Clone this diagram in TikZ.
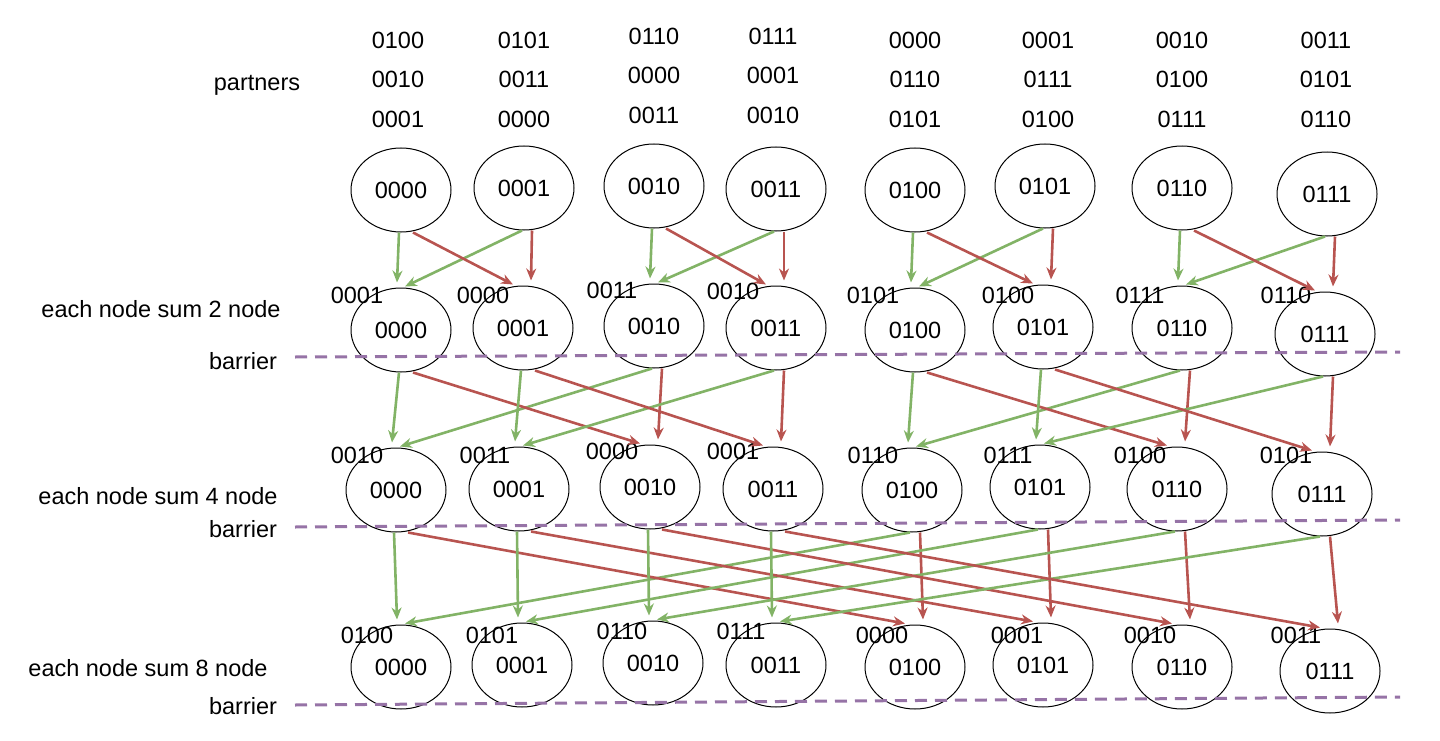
\documentclass[tikz,border=0pt]{standalone}
\usepackage{fontspec}
\setmainfont{Liberation Sans}
\usetikzlibrary{shapes.geometric,arrows.meta}
\definecolor{gr}{HTML}{82B366}
\definecolor{rd}{HTML}{B85450}
\definecolor{pu}{HTML}{9673A6}
\begin{document}
\begin{tikzpicture}[x=1pt,y=-1pt,
  nd/.style={draw,line width=1pt,ellipse,minimum width=100pt,minimum height=84pt,inner sep=0pt,font=\fontsize{23.5}{23.5}\selectfont},
  txt/.style={font=\fontsize{23.5}{23.5}\selectfont,inner sep=0pt},
  ga/.style={draw=gr,line width=2.6pt,-{Stealth[length=12pt,width=10pt]}},
  ra/.style={draw=rd,line width=2.6pt,-{Stealth[length=12pt,width=10pt]}},
  bar/.style={draw=pu,line width=3pt,dash pattern=on 12pt off 8pt}]
\useasboundingbox (0,0) rectangle (1440,741);
% partners
\foreach \x/\y/\a/\b/\c [count=\k] in {398/40/0100/0010/0001,524/40/0101/0011/0000,654/36/0110/0000/0011,773/36/0111/0001/0010,915/40/0000/0110/0101,1048/40/0001/0111/0100,1182/40/0010/0100/0111,1326/40/0011/0101/0110}{
  \node[txt] (pa\k) at (\x,\y) {\a};
  \node[txt] (pb\k) at (\x,\y+39) {\b};
  \node[txt] (pc\k) at (\x,\y+79) {\c};
}
% nodes
\foreach \r/\lst in {1/{401/190,524/188,654/186,776/189,915/190,1045/186,1182/188,1327/194},
  2/{401/330,523/328,654/326,776/328,915/330,1043/327,1182/328,1325/334},
  3/{396/490,519/489,650/487,773/489,912/490,1040/487,1177/489,1322/494},
  4/{401/667,522/665,653/663,776/665,915/667,1043/665,1182/667,1330/671}}{
  \foreach \x/\y [count=\c from 0] in \lst {
    \pgfmathtruncatemacro\bi{mod(floor(\c/4),2)}
    \pgfmathtruncatemacro\bii{mod(floor(\c/2),2)}
    \pgfmathtruncatemacro\biii{mod(\c,2)}
    \node[nd] (n\r c\c) at (\x,\y) {0\bi\bii\biii};
  }
}
% small labels above nodes
\foreach \r/\lst in {2/{357/295/0001,483/295/0000,612/290/0011,733/291/0010,873/295/0101,1008/295/0100,1140/295/0111,1286/295/0110},
  3/{357/455/0010,485/455/0011,612/451/0000,733/451/0001,873/455/0110,1008/455/0111,1140/455/0100,1286/455/0101},
  4/{367/635/0100,492/635/0101,622/631/0110,741/631/0111,882/635/0000,1017/635/0001,1150/635/0010,1296/635/0011}}{
  \foreach \x/\y/\t [count=\c from 0] in \lst {\node[txt] (l\r c\c) at (\x,\y) {\t};}
}
% left labels
\node[txt] (t0) at (257,85) {partners};
\node[txt] (t1) at (161,309) {each node sum 2 node};
\node[txt] (b1) at (243,361) {barrier};
\node[txt] (t2) at (158,496) {each node sum 4 node};
\node[txt] (b2) at (243,529) {barrier};
\node[txt] (t3) at (148,668) {each node sum 8 node};
\node[txt] (b3) at (243,706) {barrier};
\coordinate (d1a) at (295,357); \coordinate (d1b) at (1400,352);
\coordinate (d2a) at (295,527); \coordinate (d2b) at (1400,520);
\coordinate (d3a) at (295,705); \coordinate (d3b) at (1400,697);
\draw[bar] (d1a) -- (d1b);
\draw[bar] (d2a) -- (d2b);
\draw[bar] (d3a) -- (d3b);
% arrows
\foreach \r/\d in {1/1,2/2,3/4}{
  \pgfmathtruncatemacro\s{\r+1}
  \foreach \i in {0,...,7}{
    \pgfmathtruncatemacro\bt{mod(floor(\i/\d),2)}
    \ifnum\bt=0
      \pgfmathtruncatemacro\j{\i+\d}
      \draw[ga] ([xshift=-2pt]n\r c\i.south) -- ([xshift=-4pt,yshift=5pt]n\s c\i.north);
      \draw[ga] ([xshift=-2pt]n\r c\j.south) -- ([xshift=4pt,yshift=1pt]n\s c\i.north);
      \draw[ra] ([xshift=12pt]n\r c\i.south) -- ([xshift=-10pt,yshift=1pt]n\s c\j.north);
      \draw[ra] ([xshift=8pt]n\r c\j.south) -- ([xshift=8pt,yshift=5pt]n\s c\j.north);
    \fi
  }
}
\end{tikzpicture}
\end{document}
